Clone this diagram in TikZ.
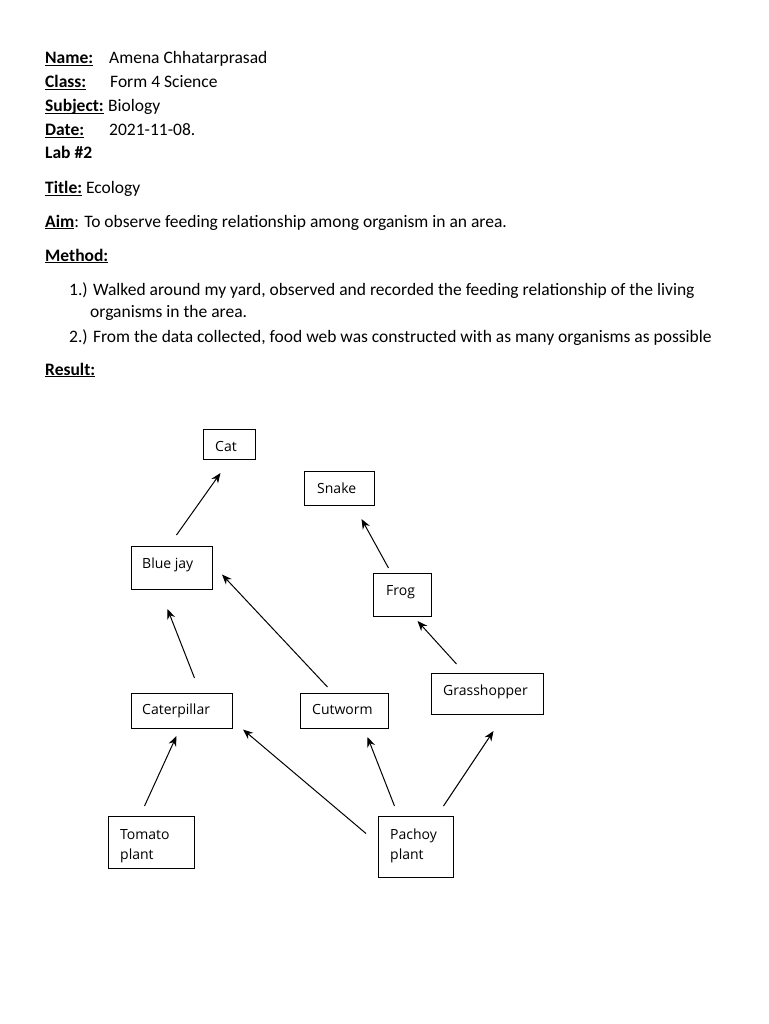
\documentclass[tikz,border=0pt]{standalone}
\usepackage{fontspec}
\setmainfont{Carlito}
\newfontfamily\boxfont{Open Sans}
\usetikzlibrary{arrows.meta,calc}
\newcommand\myul[1]{\setbox0\hbox{#1}\rlap{\rule[-2.4pt]{\wd0}{1pt}}\box0\relax}
\begin{document}
\begin{tikzpicture}[x=1pt,y=-1pt,
  txt/.style={anchor=base west, inner sep=0, font=\fontsize{17.5}{21}\selectfont},
  boxst/.style={draw, line width=1pt, anchor=north west, inner sep=0},
  lbl/.style={anchor=base west, inner sep=0, font=\boxfont\fontsize{14}{17}\selectfont},
  arr/.style={line width=1pt, -{Stealth[length=10pt,width=8pt]}}]
\fill[white] (0,0) rectangle (768,1024);
\useasboundingbox (0,0) rectangle (768,1024);
% header
\node[txt] (n1) at (45,64) {\myul{\textbf{Name:}}};
\node[txt] (v1) at (109,64) {Amena Chhatarprasad};
\node[txt] (n2) at (45,88) {\myul{\textbf{Class:}}};
\node[txt] (v2) at (110,88) {Form 4 Science};
\node[txt] (n3) at (45,112) {\myul{\textbf{Subject:}}};
\node[txt] (v3) at (108,112) {Biology};
\node[txt] (n4) at (45,136) {\myul{\textbf{Date:}}};
\node[txt] (v4) at (109,136) {2021-11-08.};
\node[txt] (n5) at (45,159) {\textbf{Lab \#2}};
\node[txt] (t1) at (45,194) {\myul{\textbf{Title:}} Ecology};
\node[txt] (t2) at (45,227) {\myul{\textbf{Aim}}: To observe feeding relationship among organism in an area.};
\node[txt] (t3) at (45,261) {\myul{\textbf{Method:}}};
\node[txt] (m1) at (69,295) {1.) Walked around my yard, observed and recorded the feeding relationship of the living};
\node[txt] (m1b) at (90,317) {organisms in the area.};
\node[txt] (m2) at (69,342) {2.) From the data collected, food web was constructed with as many organisms as possible};
\node[txt] (t4) at (45,375) {\myul{\textbf{Result:}}};
% boxes
\node[boxst, minimum width=52, minimum height=30] (cat) at (203,429) {};
\node[boxst, minimum width=70, minimum height=34] (snake) at (304,471) {};
\node[boxst, minimum width=81, minimum height=43] (bj) at (131,546) {};
\node[boxst, minimum width=58, minimum height=43] (frog) at (373,573) {};
\node[boxst, minimum width=112, minimum height=41] (gh) at (431,673) {};
\node[boxst, minimum width=101, minimum height=35] (cater) at (131,693) {};
\node[boxst, minimum width=88, minimum height=35] (cut) at (300,693) {};
\node[boxst, minimum width=86, minimum height=52] (tom) at (108,816) {};
\node[boxst, minimum width=75, minimum height=61] (pach) at (378,816) {};
% labels
\node[lbl] (catl) at ($(cat.north west)+(12,22)$) {Cat};
\node[lbl] (snakel) at ($(snake.north west)+(13,22)$) {Snake};
\node[lbl] (bjl) at ($(bj.north west)+(11,22)$) {Blue jay};
\node[lbl] (frogl) at ($(frog.north west)+(13,22)$) {Frog};
\node[lbl] (ghl) at ($(gh.north west)+(12,22)$) {Grasshopper};
\node[lbl] (caterl) at ($(cater.north west)+(11,21)$) {Caterpillar};
\node[lbl] (cutl) at ($(cut.north west)+(12,21)$) {Cutworm};
\node[lbl] (toml) at ($(tom.north west)+(12,23)$) {Tomato};
\node[lbl] (toml2) at ($(tom.north west)+(12,43)$) {plant};
\node[lbl] (pachl) at ($(pach.north west)+(12,23)$) {Pachoy};
\node[lbl] (pachl2) at ($(pach.north west)+(12,43)$) {plant};
% arrows
\draw[arr] ($(bj.north)+(4.5,-11)$) -- ($(cat.south)+(-9,13)$);
\draw[arr] ($(frog.north)+(-14,-5)$) -- ($(snake.south)+(22,13)$);
\draw[arr] ($(cut.north)+(-17,-6)$) -- ($(bj.east)+(9,6.5)$);
\draw[arr] ($(cater.north)+(12.5,-15)$) -- ($(bj.south)+(-4.5,19)$);
\draw[arr] ($(gh.north)+(-31,-9)$) -- ($(frog.south)+(15,4)$);
\draw[arr] ($(tom.north)+(-7,-10)$) -- ($(cater.south)+(-5.5,7)$);
\draw[arr] ($(pach.west)+(-12,-13.5)$) -- ($(cater.east)+(10,18.5)$);
\draw[arr] ($(pach.north)+(-21.5,-10)$) -- ($(cut.south)+(23,8)$);
\draw[arr] ($(pach.north)+(27.5,-10)$) -- ($(gh.south)+(6,16)$);
\end{tikzpicture}
\end{document}
